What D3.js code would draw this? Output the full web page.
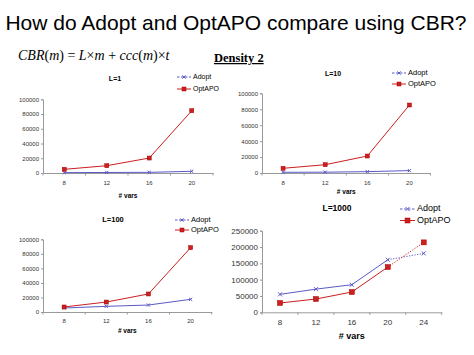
<!DOCTYPE html>
<html><head><meta charset="utf-8">
<script src="https://cdn.jsdelivr.net/npm/d3@7"></script>
<style>html,body{margin:0;padding:0;background:#fff;}svg{display:block;}</style>
</head><body>
<svg id="chart" width="474" height="355"></svg>
<script>
const categoriesA = ["8", "12", "16", "20"];
const categoriesB = ["8", "12", "16", "20", "24"];
const adoptL1 = [500, 700, 900, 2300];
const optapoL1 = [5000, 9900, 20300, 84500];
const adoptL10 = [900, 1000, 1700, 3000];
const optapoL10 = [5900, 10400, 21300, 85300];
const adoptL100 = [5500, 7800, 9600, 17400];
const optapoL100 = [6900, 13700, 24800, 88500];
const adoptL1000 = [55000, 71000, 84500, 161000, 180500];
const optapoL1000 = [28500, 40700, 62100, 138600, 214200];
const yTicksSmall = [0, 20000, 40000, 60000, 80000, 100000];
const yTicksLarge = [0, 50000, 100000, 150000, 200000, 250000];
const seriesNames = ["Adopt", "OptAPO"];
const panelTitles = ["L=1", "L=10", "L=100", "L=1000"];

const svg = d3.select("#chart");
const ADOPT = "#5a5ac8", OPT = "#cc1f1f", AXIS = "#9a9a9a";

svg.append("text").attr("x", 236).attr("y", 30).attr("text-anchor", "middle")
  .attr("font-family", "Liberation Sans, Arial, sans-serif").attr("font-size", 21)
  .attr("fill", "#000").text("How do Adopt and OptAPO compare using CBR?");

const f = svg.append("text").attr("x", 18).attr("y", 60)
  .attr("font-family", "Liberation Serif, Times New Roman, serif").attr("font-size", 14).attr("fill", "#000");
f.append("tspan").attr("font-style", "italic").text("CBR");
f.append("tspan").text("(");
f.append("tspan").attr("font-style", "italic").text("m");
f.append("tspan").text(") = ");
f.append("tspan").attr("font-style", "italic").text("L");
f.append("tspan").text("×");
f.append("tspan").attr("font-style", "italic").text("m");
f.append("tspan").text(" + ");
f.append("tspan").attr("font-style", "italic").text("ccc");
f.append("tspan").text("(");
f.append("tspan").attr("font-style", "italic").text("m");
f.append("tspan").text(")×");
f.append("tspan").attr("font-style", "italic").text("t");

svg.append("text").attr("x", 214).attr("y", 62)
  .attr("font-family", "Liberation Serif, Times New Roman, serif").attr("font-size", 12.5)
  .attr("font-weight", "bold").attr("text-decoration", "underline").attr("fill", "#000").text("Density 2");

function panel(cfg) {
  const g = svg.append("g");
  const font = "Liberation Sans, Arial, sans-serif";
  const x = d3.scaleBand().domain(cfg.cats).range([cfg.x0, cfg.x1]);
  const y = d3.scaleLinear().domain([0, cfg.yTicks[cfg.yTicks.length - 1]]).range([cfg.y0, cfg.y1]);
  const cx = d => x(d) + x.bandwidth() / 2;

  // y axis
  const ya = g.append("g").attr("transform", `translate(${cfg.x0},0)`)
    .call(d3.axisLeft(y).tickValues(cfg.yTicks).tickSize(2).tickPadding(2).tickFormat(d3.format("d")));
  ya.select(".domain").attr("stroke", AXIS);
  ya.selectAll(".tick line").attr("stroke", AXIS);
  ya.selectAll("text").attr("font-family", font).attr("font-size", cfg.fs).attr("fill", "#333");

  // x axis
  const xa = g.append("g").attr("transform", `translate(0,${cfg.y0})`)
    .call(d3.axisBottom(x).tickSize(0).tickPadding(cfg.xpad));
  xa.select(".domain").attr("stroke", AXIS);
  xa.selectAll("text").attr("font-family", font).attr("font-size", cfg.fs).attr("fill", "#333");
  const bounds = cfg.cats.map(c => x(c)).concat([cfg.x1]);
  xa.selectAll(".sep").data(bounds).enter().append("line")
    .attr("x1", d => d).attr("x2", d => d).attr("y1", 0).attr("y2", 2.5).attr("stroke", AXIS);

  const line = d3.line().x((d, i) => cx(cfg.cats[i])).y(d => y(d));
  const nSolid = cfg.solidCount || cfg.cats.length;

  function drawSeries(vals, color, kind) {
    const solid = vals.slice(0, nSolid);
    g.append("path").attr("d", line(solid)).attr("fill", "none").attr("stroke", color).attr("stroke-width", 1);
    if (nSolid < vals.length) {
      const ext = d3.line().x((d, i) => cx(cfg.cats[nSolid - 1 + i])).y(d => y(d));
      g.append("path").attr("d", ext(vals.slice(nSolid - 1))).attr("fill", "none")
        .attr("stroke", color).attr("stroke-width", 1).attr("stroke-dasharray", "1.2,1.5");
    }
    vals.forEach((v, i) => marker(g, cx(cfg.cats[i]), y(v), color, kind, cfg.ms));
  }
  drawSeries(cfg.adopt, ADOPT, "x");
  drawSeries(cfg.opt, OPT, "sq");

  g.append("text").attr("x", cfg.tx).attr("y", cfg.ty).attr("text-anchor", "middle")
    .attr("dominant-baseline", "middle").attr("font-family", font).attr("font-weight", "bold")
    .attr("font-size", cfg.tfs).attr("fill", "#000").text(cfg.title);
  g.append("text").attr("x", (cfg.x0 + cfg.x1) / 2).attr("y", cfg.xly).attr("text-anchor", "middle")
    .attr("dominant-baseline", "middle").attr("font-family", font).attr("font-weight", "bold")
    .attr("font-size", cfg.xfs).attr("fill", "#000").text("# vars");

  // legend
  const colors = [ADOPT, OPT], kinds = ["x", "sq"];
  seriesNames.forEach((nm, i) => {
    const ly = cfg.ly[i];
    g.append("line").attr("x1", cfg.lx0).attr("x2", cfg.lx1).attr("y1", ly).attr("y2", ly)
      .attr("stroke", colors[i]).attr("stroke-width", 1)
      .attr("stroke-dasharray", (i === 0) ? "2.5,1.5" : null);
    marker(g, (cfg.lx0 + cfg.lx1) / 2, ly, colors[i], kinds[i], cfg.ms);
    g.append("text").attr("x", cfg.lx1 + 2).attr("y", ly).attr("dominant-baseline", "middle")
      .attr("font-family", font).attr("font-size", cfg.lfs).attr("fill", "#000").text(nm);
  });
}

function marker(g, px, py, color, kind, ms) {
  if (kind === "sq") {
    g.append("rect").attr("x", px - ms / 2).attr("y", py - ms / 2).attr("width", ms).attr("height", ms)
      .attr("fill", OPT).attr("stroke", "#aa0000").attr("stroke-width", 0.5);
  } else {
    const s = ms * 0.4;
    g.append("path").attr("d", `M${px - s},${py - s}L${px + s},${py + s}M${px - s},${py + s}L${px + s},${py - s}`)
      .attr("stroke", color).attr("stroke-width", 1).attr("fill", "none");
  }
}

panel({cats: categoriesA, adopt: adoptL1, opt: optapoL1, yTicks: yTicksSmall, title: panelTitles[0],
  x0: 43, x1: 213, y0: 173, y1: 99.3, fs: 6, xpad: 7.3, tfs: 7, xfs: 6.5, lfs: 7, ms: 4,
  tx: 115, ty: 79, xly: 196, lx0: 177, lx1: 191, ly: [77, 89]});
panel({cats: categoriesA, adopt: adoptL10, opt: optapoL10, yTicks: yTicksSmall, title: panelTitles[1],
  x0: 262, x1: 430.5, y0: 173, y1: 93.3, fs: 6, xpad: 7.3, tfs: 7, xfs: 6.5, lfs: 7.5, ms: 4,
  tx: 333, ty: 74, xly: 192.5, lx0: 392, lx1: 406, ly: [73, 84]});
panel({cats: categoriesA, adopt: adoptL100, opt: optapoL100, yTicks: yTicksSmall, title: panelTitles[2],
  x0: 43, x1: 211.7, y0: 312, y1: 239.3, fs: 6, xpad: 7, tfs: 7.5, xfs: 6.5, lfs: 7.5, ms: 4,
  tx: 113, ty: 220.5, xly: 331.5, lx0: 175, lx1: 189, ly: [220, 230]});
panel({cats: categoriesB, adopt: adoptL1000, opt: optapoL1000, yTicks: yTicksLarge, title: panelTitles[3],
  x0: 262, x1: 441.7, y0: 312.3, y1: 230.7, fs: 8, xpad: 7.2, tfs: 8.5, xfs: 9, lfs: 9, ms: 5, solidCount: 4,
  tx: 337, ty: 209, xly: 336.5, lx0: 400, lx1: 415, ly: [209, 220.5]});
</script>
</body></html>
